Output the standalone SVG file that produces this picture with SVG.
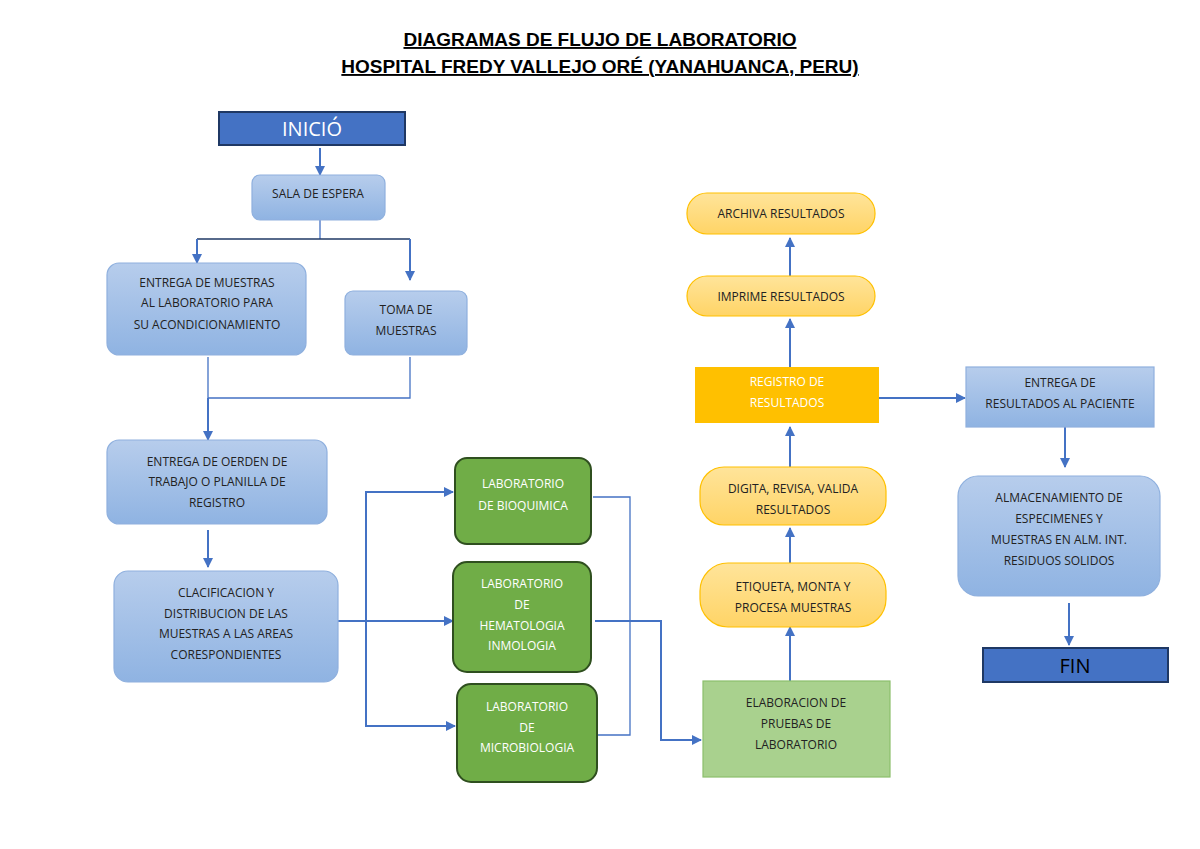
<svg xmlns="http://www.w3.org/2000/svg" width="1200" height="849" viewBox="0 0 1200 849">
<defs>
<linearGradient id="bl" x1="0" y1="0" x2="0" y2="1"><stop offset="0" stop-color="#B7CDEC"/><stop offset="1" stop-color="#8FB3E2"/></linearGradient>
<linearGradient id="yl" x1="0" y1="0" x2="0" y2="1"><stop offset="0" stop-color="#FFE49A"/><stop offset="1" stop-color="#FFD466"/></linearGradient>
<marker id="a" markerWidth="10" markerHeight="10" refX="9" refY="5" orient="auto" markerUnits="userSpaceOnUse"><path d="M0,0 L10,5 L0,10 z" fill="#4472C4"/></marker>
</defs>
<style>
text{font-family:"Open Sans","Liberation Sans",sans-serif;text-anchor:middle}
.t{font-size:12px;fill:#222}
.w{font-size:12px;fill:#fff}
.b{fill:url(#bl);stroke:#8FB0DE;stroke-width:1.2}
.g{fill:#70AD47;stroke:#2F4F1F;stroke-width:2}
.y{fill:url(#yl);stroke:#FFC000;stroke-width:1.2}
.c{fill:none;stroke:#4472C4;stroke-width:1.3}
.ar{fill:none;stroke:#4472C4;stroke-width:2;marker-end:url(#a)}
</style>
<rect width="1200" height="849" fill="#fff"/>
<g id="title" font-weight="bold" font-size="19">
<text x="600" y="46" style="text-decoration:underline;font-weight:bold;font-size:19px;fill:#000;font-family:'Liberation Sans',sans-serif">DIAGRAMAS DE FLUJO DE LABORATORIO</text>
<text x="600" y="73" style="text-decoration:underline;font-weight:bold;font-size:19px;fill:#000;font-family:'Liberation Sans',sans-serif">HOSPITAL FREDY VALLEJO ORÉ (YANAHUANCA, PERU)</text>
</g>
<g id="connectors">
<path class="ar" d="M320,148 V175"/>
<path d="M320,220 V239" class="c"/>
<path d="M197,239 H410" fill="none" stroke="#1F3864" stroke-width="1.5"/>
<path class="ar" d="M197,239 V263"/>
<path class="ar" d="M410,239 V280"/>
<path class="c" d="M208,357 V398 H410 V357"/>
<path class="ar" d="M208,398 V440"/>
<path class="ar" d="M208,530 V567"/>
<path class="ar" d="M338,621 H453"/>
<path class="ar" d="M366,621 V492 H453"/>
<path class="ar" d="M366,621 V726 H455"/>
<path class="c" d="M593,497 H630 V735 H597"/>
<path class="ar" d="M595,621 H661 V740 H701"/>
<path class="ar" d="M790,681 V627"/>
<path class="ar" d="M790,563 V528"/>
<path class="ar" d="M790,467 V427"/>
<path class="ar" d="M790,367 V319"/>
<path class="ar" d="M790,276 V238"/>
<path class="ar" d="M879,398 H965"/>
<path class="ar" d="M1065,427 V467"/>
<path class="ar" d="M1069,603 V645"/>
</g>
<g id="inicio"><rect x="219" y="112" width="186" height="33" fill="#4472C4" stroke="#1F3864" stroke-width="2"/><text x="312" y="136" style="font-size:20px;fill:#fff">INICIÓ</text></g>
<g id="sala"><rect class="b" x="252" y="175" width="133" height="45" rx="8"/><text class="t" x="318" y="198">SALA DE ESPERA</text></g>
<g id="entrega"><rect class="b" x="107" y="263" width="199" height="92" rx="12"/><text class="t" x="207" y="287">ENTREGA DE MUESTRAS</text><text class="t" x="207" y="307">AL LABORATORIO PARA</text><text class="t" x="207" y="329">SU ACONDICIONAMIENTO</text></g>
<g id="toma"><rect class="b" x="345" y="291" width="122" height="64" rx="8"/><text class="t" x="406" y="314">TOMA DE</text><text class="t" x="406" y="335">MUESTRAS</text></g>
<g id="orden"><rect class="b" x="107" y="440" width="220" height="84" rx="12"/><text class="t" x="217" y="466">ENTREGA DE OERDEN DE</text><text class="t" x="217" y="486">TRABAJO O PLANILLA DE</text><text class="t" x="217" y="507">REGISTRO</text></g>
<g id="clac"><rect class="b" x="114" y="571" width="224" height="111" rx="14"/><text class="t" x="226" y="597">CLACIFICACION Y</text><text class="t" x="226" y="618">DISTRIBUCION DE LAS</text><text class="t" x="226" y="638">MUESTRAS A LAS AREAS</text><text class="t" x="226" y="659">CORESPONDIENTES</text></g>
<g id="bioq"><rect class="g" x="455" y="458" width="136" height="86" rx="12"/><text class="w" x="523" y="488">LABORATORIO</text><text class="w" x="523" y="510">DE BIOQUIMICA</text></g>
<g id="hema"><rect class="g" x="453" y="562" width="138" height="110" rx="14"/><text class="w" x="522" y="588">LABORATORIO</text><text class="w" x="522" y="609">DE</text><text class="w" x="522" y="630">HEMATOLOGIA</text><text class="w" x="522" y="650">INMOLOGIA</text></g>
<g id="micro"><rect class="g" x="457" y="684" width="140" height="98" rx="14"/><text class="w" x="527" y="711">LABORATORIO</text><text class="w" x="527" y="732">DE</text><text class="w" x="527" y="752">MICROBIOLOGIA</text></g>
<g id="elab"><rect x="703" y="681" width="187" height="96" fill="#A9D18E" stroke="#8CBF6C" stroke-width="1.2"/><text class="t" x="796" y="707">ELABORACION DE</text><text class="t" x="796" y="728">PRUEBAS DE</text><text class="t" x="796" y="749">LABORATORIO</text></g>
<g id="etiq"><rect class="y" x="700" y="563" width="186" height="64" rx="28"/><text class="t" x="793" y="591">ETIQUETA, MONTA Y</text><text class="t" x="793" y="612">PROCESA MUESTRAS</text></g>
<g id="digita"><rect class="y" x="700" y="467" width="186" height="58" rx="24"/><text class="t" x="793" y="493">DIGITA, REVISA, VALIDA</text><text class="t" x="793" y="514">RESULTADOS</text></g>
<g id="registro"><rect x="695" y="367" width="184" height="56" fill="#FFC000"/><text class="w" x="787" y="386">REGISTRO DE</text><text class="w" x="787" y="407">RESULTADOS</text></g>
<g id="imprime"><rect class="y" x="687" y="276" width="188" height="40" rx="20"/><text class="t" x="781" y="301">IMPRIME RESULTADOS</text></g>
<g id="archiva"><rect class="y" x="687" y="193" width="188" height="41" rx="20"/><text class="t" x="781" y="218">ARCHIVA RESULTADOS</text></g>
<g id="entregares"><rect class="b" x="966" y="367" width="188" height="60" rx="0"/><text class="t" x="1060" y="387">ENTREGA DE</text><text class="t" x="1060" y="408">RESULTADOS AL PACIENTE</text></g>
<g id="almac"><rect class="b" x="958" y="476" width="202" height="120" rx="20"/><text class="t" x="1059" y="502">ALMACENAMIENTO DE</text><text class="t" x="1059" y="523">ESPECIMENES Y</text><text class="t" x="1059" y="544">MUESTRAS EN ALM. INT.</text><text class="t" x="1059" y="565">RESIDUOS SOLIDOS</text></g>
<g id="fin"><rect x="983" y="648" width="185" height="34" fill="#4472C4" stroke="#1F3864" stroke-width="2"/><text x="1075" y="673" style="font-size:20px;fill:#000">FIN</text></g>
</svg>
